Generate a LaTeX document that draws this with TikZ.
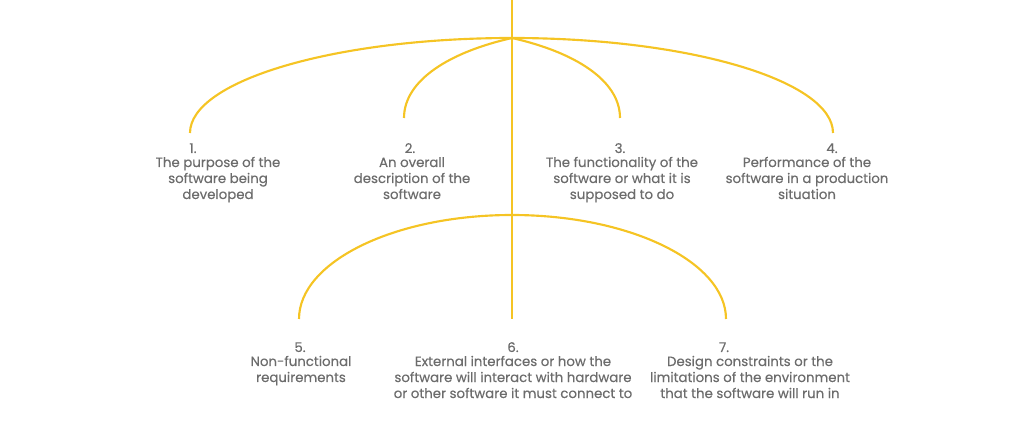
\documentclass[tikz,border=0pt]{standalone}
\usepackage{fontspec}
\setmainfont[FakeBold=0.4]{Poppins}
\definecolor{gold}{RGB}{245,196,36}
\definecolor{labelgray}{RGB}{108,108,108}
\tikzset{
  branch/.style={draw=gold, line width=1.6pt},
  num/.style={text=labelgray, font=\fontsize{10}{12}\selectfont, inner sep=0pt, anchor=base},
  desc/.style={text=labelgray, font=\fontsize{10}{12}\selectfont, align=center, inner sep=0pt, anchor=base}
}

\begin{document}
\begin{tikzpicture}[x=0.75pt, y=-0.75pt]
  \useasboundingbox (0,0) rectangle (1024,427);
  % stem and hubs
  \coordinate (stem) at (512,0);
  \coordinate (hub1) at (512,38);
  \coordinate (hub2) at (512,215);
  \coordinate (foot) at (512,319);
  % arc ends
  \coordinate (e1) at (190,133);
  \coordinate (e2) at (404,118);
  \coordinate (e3) at (620,118);
  \coordinate (e4) at (833,133);
  \coordinate (e5) at (299,319);
  \coordinate (e7) at (726,319);

  \draw [branch] (stem) -- (hub1) -- (hub2) -- (foot);
  \draw [branch] (hub1) .. controls (334,38) and (190,81) .. (e1);
  \draw [branch] (hub1) .. controls (450,52) and (404,80) .. (e2);
  \draw [branch] (hub1) .. controls (574,52) and (620,80) .. (e3);
  \draw [branch] (hub1) .. controls (690,38) and (833,81) .. (e4);
  \draw [branch] (hub2) .. controls (394,215) and (299,262) .. (e5);
  \draw [branch] (hub2) .. controls (630,215) and (726,262) .. (e7);

  % top row (desc sits on its last line)
  \node [num] (n1) at (193,153) {1.};
  \node [desc] (d1) at (218,199) {The purpose of the\\software being\\developed};
  \node [num] (n2) at (410,153) {2.};
  \node [desc] (d2) at (412,199) {An overall\\description of the\\software};
  \node [num] (n3) at (620,153) {3.};
  \node [desc] (d3) at (622,199) {The functionality of the\\software or what it is\\supposed to do};
  \node [num] (n4) at (832,153) {4.};
  \node [desc] (d4) at (807,199) {Performance of the\\software in a production\\situation};

  % bottom row
  \node [num] (n5) at (300,352) {5.};
  \node [desc] (d5) at (301,382) {Non-functional\\requirements};
  \node [num] (n6) at (513,352) {6.};
  \node [desc] (d6) at (513,398) {External interfaces or how the\\software will interact with hardware\\or other software it must connect to};
  \node [num] (n7) at (724,352) {7.};
  \node [desc] (d7) at (750,398) {Design constraints or the\\limitations of the environment\\that the software will run in};
\end{tikzpicture}
\end{document}
